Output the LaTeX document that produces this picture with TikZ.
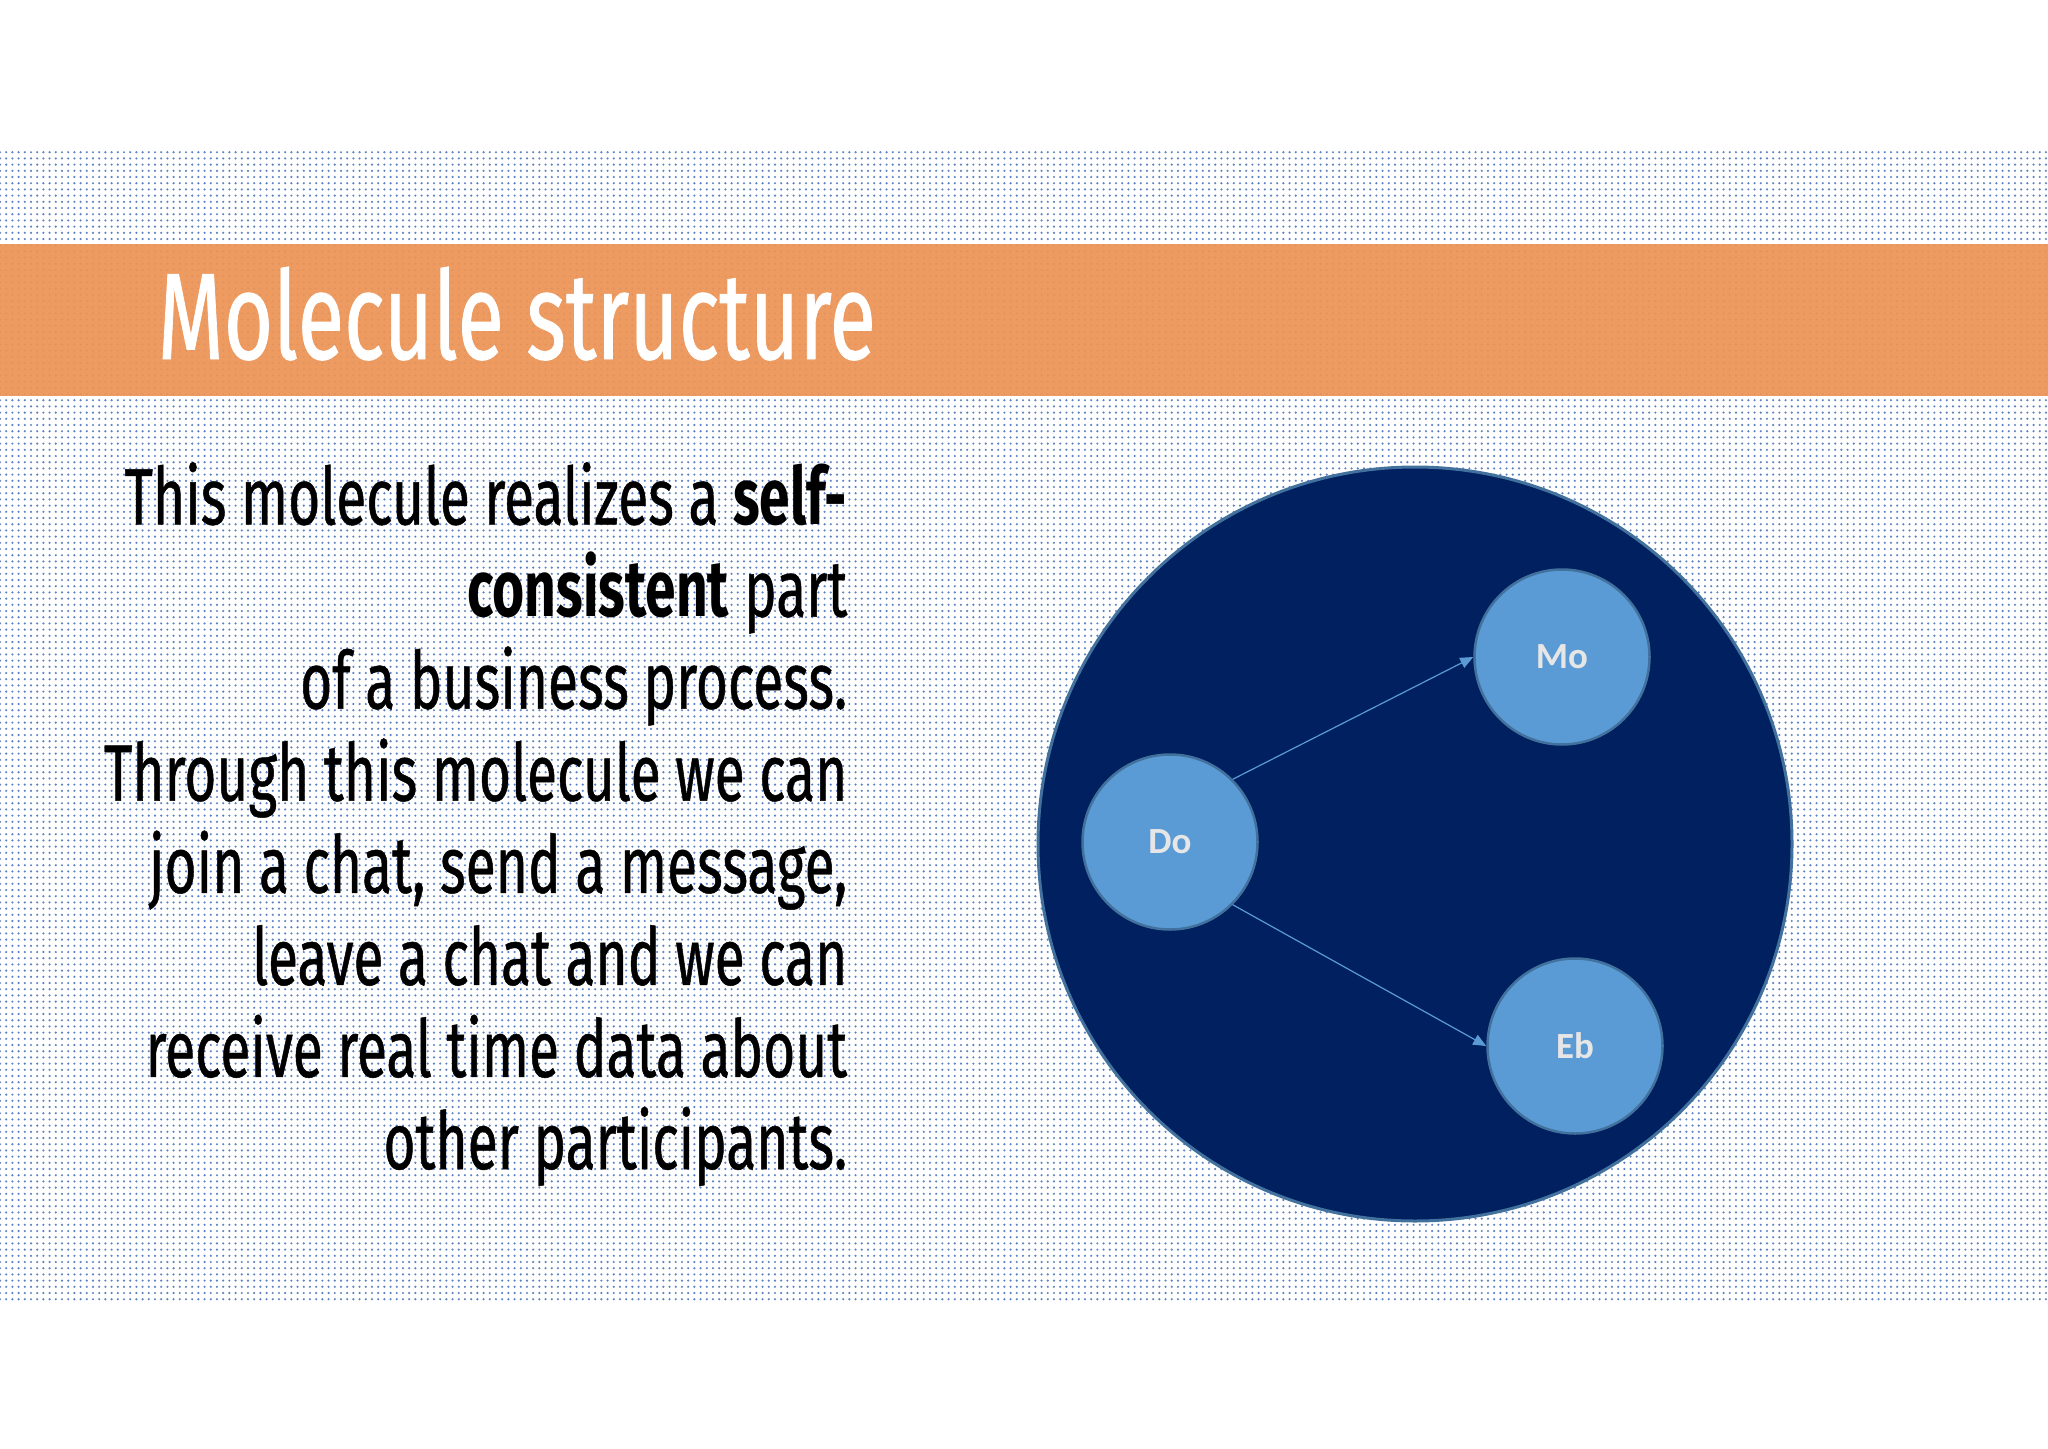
\documentclass[tikz,border=0pt]{standalone}
\usepackage{fontspec}
\usepackage{xcolor}
\usetikzlibrary{arrows.meta,patterns.meta}
\setmainfont{Carlito}
\newfontfamily\narrowfont[FakeStretch=0.69, UprightFeatures={FakeBold=0.6}]{Fira Sans}
\definecolor{band-orange}{RGB}{237,148,86}
\definecolor{dot-blue}{RGB}{95,130,195}
\definecolor{navy}{RGB}{0,32,96}
\definecolor{atom-blue}{RGB}{91,155,213}
\definecolor{atom-line}{RGB}{65,113,156}
\definecolor{atom-text}{RGB}{231,230,230}
\tikzset{
    dotted-area/.style = {pattern={Dots[distance=0.62mm, radius=0.12mm]}, pattern color=dot-blue},
    title-text/.style = {text=white, font=\narrowfont\fontsize{35}{40}\selectfont, inner sep=0pt},
    body-text/.style = {text=black, font=\narrowfont\fontsize{22.7}{26.2}\selectfont, align=right, inner sep=0pt},
    molecule/.style = {circle, fill=navy, draw=atom-line, line width=0.3mm, minimum size=75.4mm, inner sep=0pt},
    atom/.style = {circle, fill=atom-blue, draw=atom-line, line width=0.25mm, minimum size=17.5mm, inner sep=0pt, text=atom-text, font=\bfseries\fontsize{10.5}{12}\selectfont},
    bond-arrow/.style = {draw=atom-blue, line width=0.12mm, -{Triangle[length=1.3mm, width=1.1mm]}},
}

\begin{document}
\begin{tikzpicture}[x=0.1mm, y=-0.1mm]
\useasboundingbox (0,0) rectangle (2048,1448);
\fill[white] (0,0) rectangle (2048,1448);
\fill[dotted-area] (0,148) rectangle (2048,1300);
\fill[band-orange, fill opacity=0.93] (0,244) rectangle (2048,396);
\node[title-text, anchor=base west] (title) at (157,359) {Molecule structure};
\node[body-text, anchor=base east] (text) at (848,1169) {This molecule realizes a \textbf{self-}\\
    \textbf{consistent} part\\
    of a business process.\\
    Through this molecule we can\\
    join a chat, send a message,\\
    leave a chat and we can\\
    receive real time data about\\
    other participants.};
\node[molecule] (mol) at (1415,844) {};
\node[atom] (mo) at (1562,657) {Mo};
\node[atom] (do) at (1170,842) {Do};
\node[atom] (eb) at (1575,1046) {Eb};
\draw[bond-arrow] (do.45) -- (mo.west);
\draw[bond-arrow] (do.-45) -- (eb.west);
\end{tikzpicture}
\end{document}
